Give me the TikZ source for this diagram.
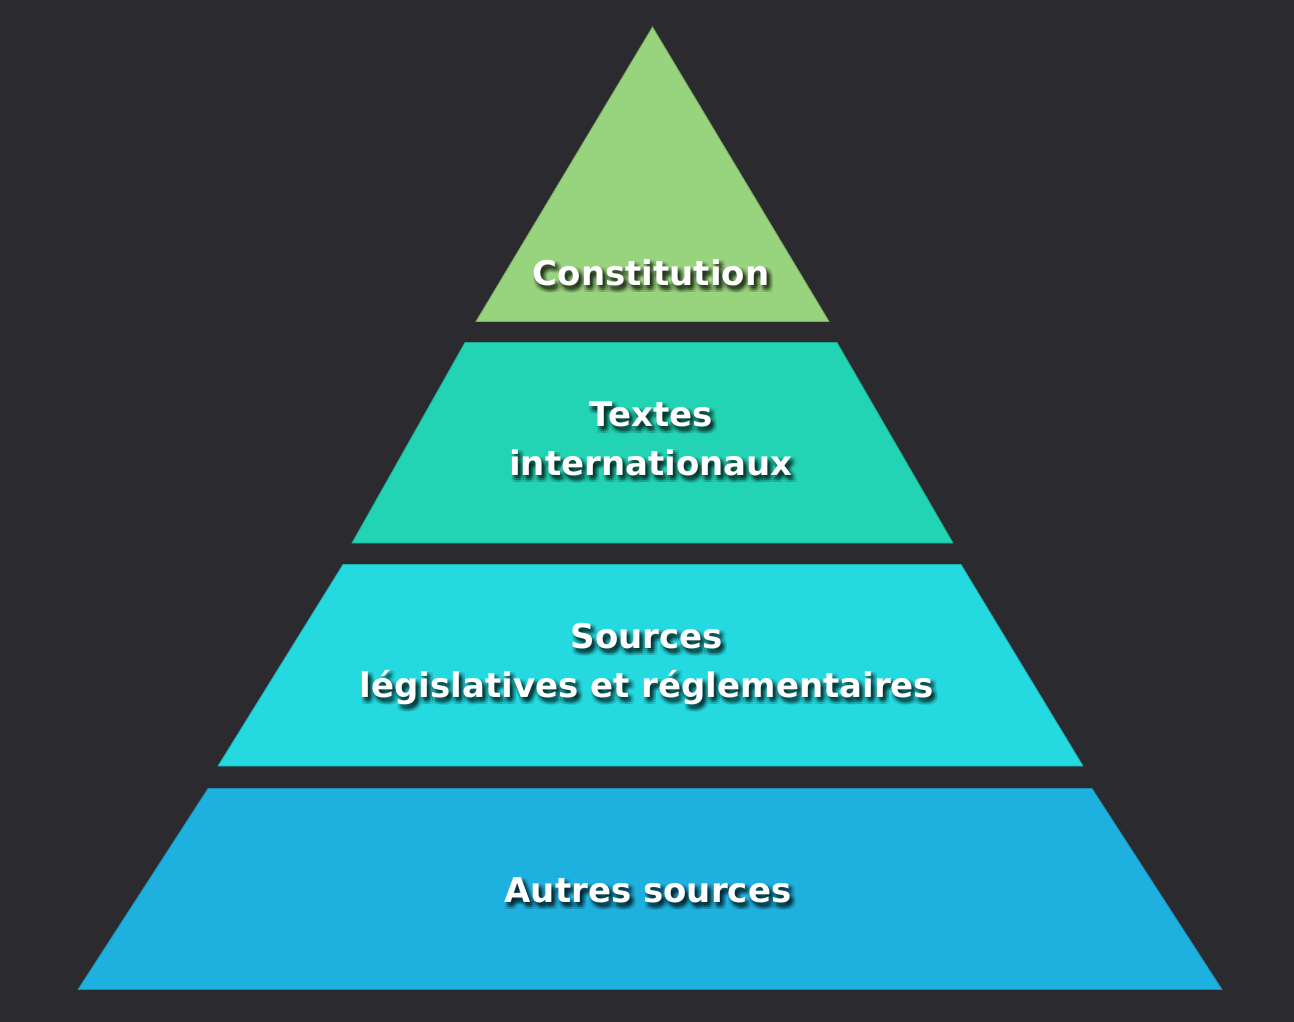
\documentclass[tikz,border=0pt]{standalone}
\usepackage{fontspec}
\setmainfont{DejaVu Sans}
\definecolor{bgc}{HTML}{2B2A2F}
\definecolor{tierA}{HTML}{98D47D}
\definecolor{tierB}{HTML}{22D4B4}
\definecolor{tierC}{HTML}{24DAE0}
\definecolor{tierD}{HTML}{1EB1E0}
\tikzset{
  tier/.style={line width=0.8pt, line join=miter},
  lbl/.style={text=white, font=\bfseries\fontsize{34}{49}\selectfont, align=center, inner sep=0pt},
  shd/.style={text=black, text opacity=0.075, font=\bfseries\fontsize{34}{49}\selectfont, align=center, inner sep=0pt},
}
\newcommand\shadowlabel[3]{%
  \foreach \dx/\dy [count=\k] in {0/-1,2/-1,4/-1,6/-1,0/-3,2/-3,4/-3,6/-3,0/-5,2/-5,4/-5,6/-5,0/-7,2/-7,4/-7,6/-7,3/-4,3/-3,3/-5}{
    \node[shd, xshift=\dx pt, yshift=\dy pt] (#1s\k) at (#2) {#3};
  }
  \node[lbl] (#1) at (#2) {#3};
}
\begin{document}
\begin{tikzpicture}[x=1pt,y=-1pt]
\fill[bgc] (0,0) rectangle (1294,1022);
\useasboundingbox (0,0) rectangle (1294,1022);
% tiers
\fill[tierA, tier, draw=tierA!80!black] (652.5,27) -- (829,321.5) -- (476,321.5) -- cycle;
\fill[tierB, tier, draw=tierB!80!black] (465,342.5) -- (837,342.5) -- (953,543) -- (352,543) -- cycle;
\fill[tierC, tier, draw=tierC!80!black] (343,564.5) -- (961,564.5) -- (1083,766) -- (218,766) -- cycle;
\fill[tierD, tier, draw=tierD!80!black] (208,788.5) -- (1092,788.5) -- (1222,989.5) -- (78,989.5) -- cycle;
% label positions
\coordinate (p1) at (651,273);
\coordinate (p2) at (651,439);
\coordinate (p3) at (647,664);
\coordinate (p4) at (648,890);
\shadowlabel{l1}{p1}{Constitution}
\shadowlabel{l2}{p2}{Textes\\internationaux}
\shadowlabel{l3}{p3}{Sources\\législatives et réglementaires}
\shadowlabel{l4}{p4}{Autres sources}
\end{tikzpicture}
\end{document}
